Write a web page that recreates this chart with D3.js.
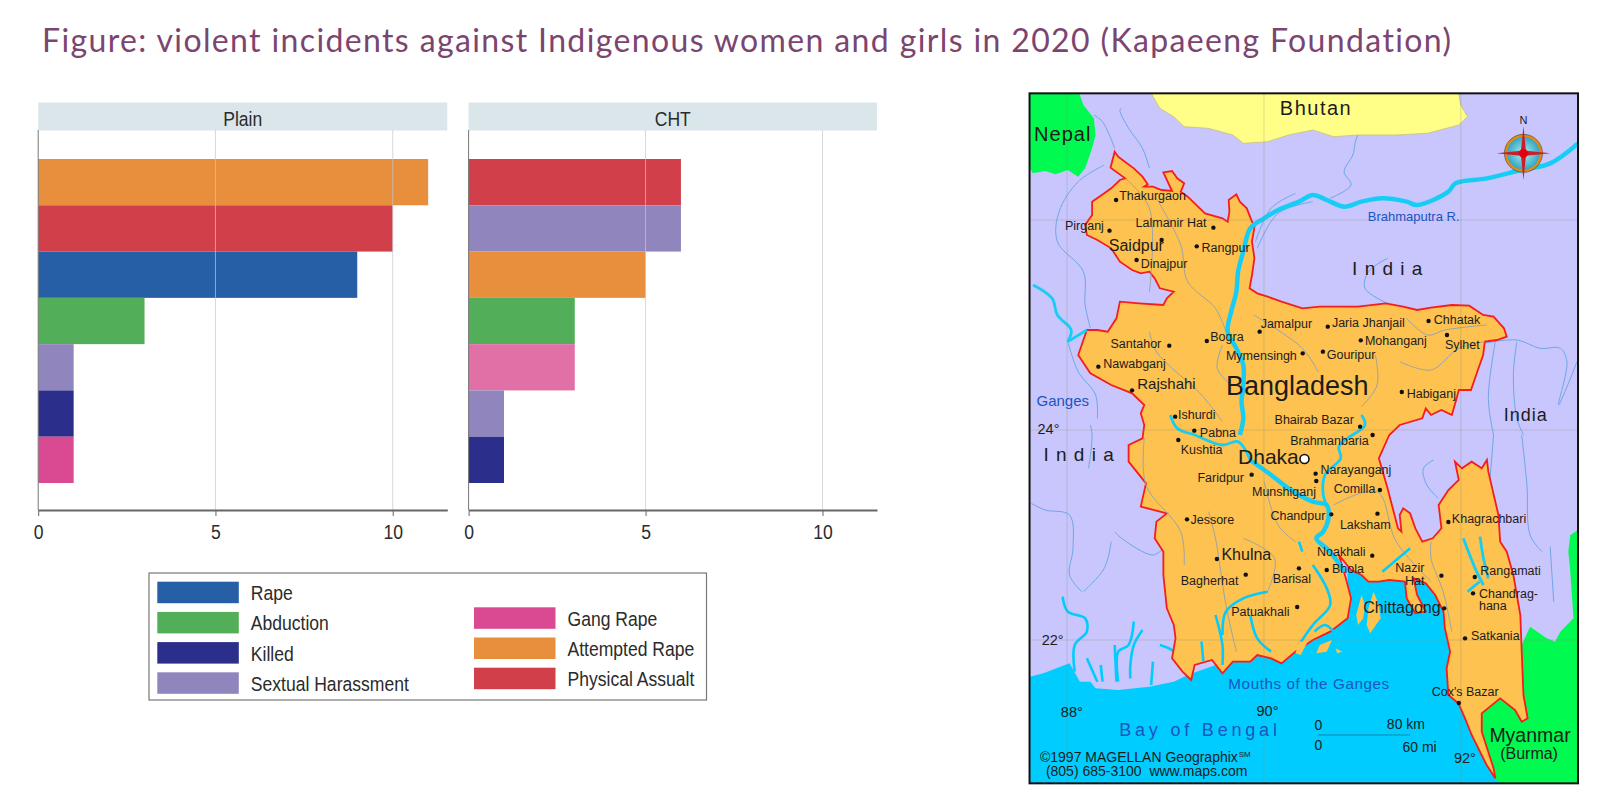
<!DOCTYPE html>
<html lang="en">
<head>
    <meta charset="UTF-8">
    <title>Violent incidents against Indigenous women and girls in 2020</title>
    <script src="https://d3js.org/d3.v7.min.js"></script>
    <style>
        body { margin: 0; background: #fff; }
        svg { display: block; }
        text { font-family: "Liberation Sans", Arial, sans-serif; }
        .title { font-family: Lato, sans-serif; font-size: 32px; fill: #7b4570; font-variant-ligatures: none; }
        .chart-text { font-size: 19.5px; fill: #2b2b2b; }
        .axis path, .axis line { stroke: #666; }
        .axis path { stroke-width: 2px; }
    </style>
</head>
<body>
    <svg width="1608" height="812"></svg>

    <script>
        // Chart data
        const plainCategories = ["Attempted Rape", "Physical Assualt", "Rape", "Abduction", "Sextual Harassment", "Killed", "Gang Rape"];
        const plainValues = [11, 10, 9, 3, 1, 1, 1];
        const chtCategories = ["Physical Assualt", "Sextual Harassment", "Attempted Rape", "Abduction", "Gang Rape", "Sextual Harassment", "Killed"];
        const chtValues = [6, 6, 5, 3, 3, 1, 1];
        const xTicks = [0, 5, 10];
        const legendLeft = ["Rape", "Abduction", "Killed", "Sextual Harassment"];
        const legendRight = ["Gang Rape", "Attempted Rape", "Physical Assualt"];

        const categoryColors = {
            "Rape": "#265fa5", "Abduction": "#53ae59", "Killed": "#2c2e8c",
            "Sextual Harassment": "#9086bd", "Gang Rape": "#da4a93",
            "Attempted Rape": "#e88f3d", "Physical Assualt": "#d1404a"
        };

        const nepal = [[85,25],[228,25],[240,60],[270,100],[275,150],[265,190],[245,250],[225,275],[195,255],[160,268],[130,258],[95,265],[85,250]];
        const bhutan = [[435,25],[1320,25],[1325,60],[1345,95],[1320,120],[1230,145],[1140,150],[1030,150],[960,155],[900,135],[830,150],[770,170],[700,175],[670,150],[600,130],[530,125],[500,95],[460,70]];
        const ocean = [[85,1775],[125,1765],[200,1735],[230,1790],[260,1790],[275,1810],[340,1815],[430,1805],[500,1790],[540,1770],[1000,1600],[1000,1440],[1290,1500],[1440,2095],[85,2095]];
        const myanmar = [[1439,2095],[1423,2080],[1386,1940],[1386,1885],[1439,1840],[1482,1875],[1501,1910],[1518,1900],[1506,1830],[1501,1680],[1525,1625],[1573,1660],[1597,1670],[1612,1640],[1650,1600],[1640,1450],[1635,1400],[1641,1350],[1663,1335],[1663,2095]];
        const bangladesh = [[330,200],[340,215],[365,235],[385,250],[410,275],[425,298],[415,305],[440,305],[465,315],[495,318],[470,262],[495,258],[510,280],[530,295],[520,320],[540,335],[560,355],[590,385],[640,400],[655,410],[660,380],[658,345],[680,328],[690,350],[710,370],[725,410],[733,420],[725,470],[732,520],[725,570],[718,610],[740,625],[770,635],[810,650],[870,670],[920,665],[970,665],[1030,665],[1110,655],[1160,665],[1200,675],[1240,668],[1300,660],[1350,662],[1390,690],[1420,695],[1450,730],[1458,755],[1430,765],[1395,770],[1390,810],[1370,870],[1355,915],[1320,915],[1315,935],[1300,990],[1270,975],[1240,990],[1225,970],[1215,1000],[1150,1020],[1120,1050],[1090,1120],[1115,1210],[1130,1270],[1145,1330],[1155,1340],[1150,1290],[1160,1270],[1180,1285],[1195,1330],[1215,1370],[1245,1360],[1270,1330],[1262,1260],[1290,1215],[1320,1185],[1309,1130],[1329,1150],[1357,1130],[1386,1150],[1401,1125],[1405,1160],[1434,1290],[1439,1370],[1458,1400],[1477,1470],[1497,1590],[1501,1700],[1506,1830],[1518,1900],[1501,1910],[1482,1875],[1439,1840],[1386,1885],[1386,1940],[1420,2050],[1425,2080],[1400,2040],[1357,1950],[1338,1900],[1319,1855],[1290,1830],[1285,1750],[1295,1700],[1280,1630],[1276,1580],[1252,1530],[1225,1495],[1190,1480],[1200,1530],[1225,1580],[1195,1585],[1170,1540],[1165,1490],[1120,1485],[1090,1490],[1060,1490],[1040,1470],[1010,1455],[975,1410],[995,1480],[1010,1540],[1000,1600],[950,1640],[900,1665],[850,1700],[810,1735],[780,1720],[740,1710],[720,1730],[670,1730],[640,1765],[610,1725],[560,1740],[550,1785],[525,1760],[495,1720],[505,1660],[500,1620],[480,1570],[470,1470],[470,1400],[445,1360],[450,1310],[480,1285],[405,1265],[420,1195],[370,1130],[370,1080],[410,1060],[415,1020],[405,985],[415,960],[380,925],[320,900],[260,865],[225,810],[250,735],[280,735],[310,740],[335,700],[345,650],[400,655],[470,660],[480,640],[500,620],[460,610],[445,580],[430,560],[405,565],[380,555],[345,530],[320,490],[280,465],[250,450],[245,420],[265,390],[265,350],[300,325],[320,310],[345,285],[360,280],[318,248]];
        const islands = [
            [[1075,1520],[1090,1560],[1095,1600],[1065,1645],[1055,1620],[1060,1570]],
            [[1040,1530],[1050,1560],[1045,1600],[1030,1620],[1025,1590]],
            [[860,1670],[885,1670],[865,1710],[850,1705]],
            [[920,1680],[955,1665],[940,1700],[910,1705]],
            [[965,1690],[985,1700],[970,1705]]
        ];
        const mainRivers = [
            [[1663,175],[1583,235],[1500,255],[1400,280],[1310,295],[1290,320],[1200,360],[1170,350],[1100,340],[1040,350],[990,365],[940,345],[900,330],[860,350],[800,375],[760,400],[720,430],[700,500],[685,560],[680,620],[665,680],[655,740],[680,790],[700,840],[700,900],[695,950],[700,1000],[690,1050]],
            [[720,1125],[780,1170],[830,1210],[900,1250],[940,1260],[945,1300],[930,1340],[910,1360],[950,1400],[990,1460]]
        ];
        const sideRivers = [
            [[490,990],[510,1030],[560,1050],[640,1080],[685,1070],[720,1125]],
            [[1040,990],[1050,1020],[1000,1060],[975,1085],[980,1120],[935,1170],[930,1230],[940,1260]],
            [[95,600],[150,640],[165,690],[205,735],[195,770]],
            [[195,770],[250,735]],
            [[1333,1360],[1367,1450],[1391,1500]],
            [[1381,1355],[1391,1420],[1405,1480]],
            [[1380,1490],[1345,1520]]
        ];
        const westInlets = [
            [[180,1535],[195,1580],[245,1600],[250,1640],[215,1680],[215,1760]],
            [[385,1610],[370,1680],[340,1700],[340,1790]],
            [[410,1635],[385,1680],[375,1740],[375,1780]],
            [[460,1680],[500,1700],[525,1750]],
            [[250,1720],[280,1790]],
            [[290,1740],[295,1790]],
            [[440,1730],[435,1800]],
            [[330,1680],[335,1790]]
        ];
        const deltaInlets = [
            [[620,1590],[640,1680],[640,1740]],
            [[720,1590],[740,1660],[780,1700]],
            [[770,1520],[700,1540],[650,1580],[640,1650]],
            [[900,1440],[940,1510],[950,1560],[900,1620],[860,1680]],
            [[860,1370],[870,1400]],
            [[1100,1460],[1180,1390]],
            [[580,1670],[585,1730]],
            [[905,1640],[935,1620],[960,1640]]
        ];
        const indiaRivers = [
            [[350,70],[345,75],[370,130],[410,190],[430,250]],
            [[270,90],[295,110],[330,190]],
            [[300,240],[225,290],[170,380],[165,470],[240,560],[245,660],[260,730]],
            [[1150,30],[1100,90],[1030,150],[1015,210],[990,260],[1010,300],[950,340]],
            [[1115,520],[1060,560],[1050,610],[1115,655]],
            [[850,325],[780,370],[735,470]],
            [[900,350],[800,385],[740,490]],
            [[1391,775],[1487,765],[1554,790],[1612,790],[1631,830],[1607,960],[1660,830]],
            [[1425,770],[1405,940],[1420,1050]],
            [[1487,770],[1477,870],[1487,1000],[1506,1050]],
            [[1247,1125],[1218,1150],[1228,1200],[1261,1240]],
            [[1420,1050],[1410,1180]],
            [[1501,1050],[1516,1200],[1525,1350],[1559,1400]],
            [[1583,1385],[1593,1550]],
            [[90,1255],[130,1275],[200,1290],[210,1390],[200,1470],[235,1520]],
            [[330,1340],[350,1360],[440,1410],[470,1390]],
            [[320,1370],[300,1450],[240,1520]],
            [[260,1020],[265,1050],[255,1150]],
            [[195,770],[225,860],[275,930],[280,1000]]
        ];
        const landRivers = [
            [[360,280],[430,370],[430,620]],
            [[450,340],[520,480],[540,590],[620,670],[650,740]],
            [[730,690],[870,790],[915,860]],
            [[1080,810],[1085,900],[1040,965]],
            [[1150,830],[1240,855],[1320,790],[1395,770]],
            [[1170,700],[1230,750],[1280,735],[1400,720]],
            [[415,1060],[420,1200],[520,1340],[530,1440]],
            [[600,1280],[620,1360],[650,1560],[680,1700]],
            [[700,1360],[790,1420],[770,1520]],
            [[760,1190],[800,1320],[850,1370]],
            [[960,1260],[1085,1220],[1140,1370],[1240,1490]],
            [[1240,1370],[1240,1420],[1275,1520],[1300,1640]],
            [[640,780],[625,850],[665,900]],
            [[430,740],[450,800],[580,930],[640,1010]]
        ];
        const lonTicks = [88, 90, 92];
        const latTicks = [26, 24, 22];

        // name, x, y, font size, letter spacing, colour kind
        const mapLabels = [
            ["Bhutan",805,70,20,1.5,""],["Nepal",98,148,20,1,""],["Thakurgaon",343,332,12.5,0,""],["Pirganj",187,422,12.5,0,""],
            ["Lalmanir Hat",390,413,12.5,0,""],["Saidpur",313,482,16,0,""],["Rangpur",580,488,12.5,0,""],["Dinajpur",405,535,12.5,0,""],
            ["Brahmaputra R.",1058,393,13,0,"water"],["I n d i a",1013,551,19,1,""],["Jamalpur",750,715,12.5,0,""],["Jaria Jhanjail",955,712,12.5,0,""],
            ["Chhatak",1248,703,12.5,0,""],["Santahor",318,775,12.5,0,""],["Bogra",605,755,12.5,0,""],["Mohanganj",1050,768,12.5,0,""],
            ["Sylhet",1280,780,12.5,0,""],["Mymensingh",650,813,12.5,0,""],["Gouripur",940,808,12.5,0,""],["Nawabganj",297,837,12.5,0,""],
            ["Rajshahi",395,895,15,0,""],["Bangladesh",650,903,27,0,""],["Habiganj",1170,925,12.5,0,""],["Ganges",105,948,15,0,"water"],
            ["Ishurdi",512,990,12.5,0,""],["India",1449,990,18,1,""],["Bhairab Bazar",790,1005,12.5,0,""],["24°",108,1033,14.5,0,""],
            ["Pabna",575,1042,12.5,0,""],["Brahmanbaria",835,1067,12.5,0,""],["I n d i a",125,1108,19,1,""],["Kushtia",520,1093,12.5,0,""],
            ["Dhaka",685,1115,21,0,""],["Narayanganj",922,1153,12.5,0,""],["Faridpur",568,1177,12.5,0,""],["Munshiganj",725,1220,12.5,0,""],
            ["Comilla",960,1210,12.5,0,""],["Chandpur",778,1293,12.5,0,""],["Jessore",548,1305,12.5,0,""],["Laksham",978,1320,12.5,0,""],
            ["Khagrachbari",1300,1302,12.5,0,""],["Noakhali",912,1400,12.5,0,""],["Khulna",637,1407,16,0,""],["Bhola",955,1452,12.5,0,""],
            ["Nazir",1137,1448,12.5,0,""],["Hat",1165,1487,12.5,0,""],["Rangamati",1382,1456,12.5,0,""],["Bagherhat",520,1486,12.5,0,""],
            ["Barisal",785,1481,12.5,0,""],["Chandrag-",1378,1525,12.5,0,""],["hana",1378,1563,12.5,0,""],["Chittagong",1045,1566,16,0,""],
            ["Patuakhali",665,1581,12.5,0,""],["Satkania",1355,1652,12.5,0,""],["22°",120,1665,14.5,0,""],["Mouths of the Ganges",657,1797,15.2,0.6,"water"],
            ["Cox's Bazar",1242,1820,12.5,0,""],["88°",175,1880,14.5,0,""],["90°",738,1877,14.5,0,""],["0",905,1920,14,0,""],["80 km",1113,1918,14,0,""],
            ["Bay of Bengal",343,1935,18,3.8,"water"],["0",905,1980,14,0,""],["60 mi",1158,1985,14,0,""],["Myanmar",1408,1950,19.5,0,""],["(Burma)",1439,2005,16,0,""],
            ["92°",1306,2020,14.5,0,""],["©1997 MAGELLAN Geographix",115,2015,14,0,""],["(805) 685-3100\u00a0\u00a0www.maps.com",132,2058,14,0,""]
        ];
        const cityDots = [
            [334,345],[315,437],[614,428],[465,465],[566,484],[393,525],[747,740],[943,725],[1233,708],[487,782],[595,768],[1038,766],[1286,750],
            [871,805],[929,800],[283,845],[380,916],[1156,921],[504,995],[1036,1025],[559,1037],[1072,1050],[513,1065],[908,1166],[910,1188],[724,1169],
            [1093,1215],[953,1288],[1086,1286],[538,1303],[1290,1311],[1071,1412],[624,1422],[860,1450],[940,1455],[1270,1472],[1366,1476],[707,1469],
            [1361,1525],[1278,1570],[855,1566],[1338,1660],[1320,1854]
        ];
        const dhaka = [876, 1122];
        const compass = [1506, 205];
        const scaleBar = [[915, 1950], [1180, 1950]];

        const svg = d3.select("svg");

        // gradient for the compass face
        const faceGradient = svg.append("defs").append("radialGradient").attr("id", "compass-face");
        faceGradient.append("stop").attr("offset", "0%").attr("stop-color", "#b5f0ea");
        faceGradient.append("stop").attr("offset", "100%").attr("stop-color", "#2a9fc4");

        svg.append("text")
            .attr("class", "title")
            .attr("x", 42)
            .attr("y", 52)
            .attr("textLength", 1409)
            .text("Figure: violent incidents against Indigenous women and girls in 2020 (Kapaeeng Foundation)");

        // chart labels in the source are a little condensed
        function condensed(x, y) {
            return `translate(${x},${y}) scale(0.9,1)`;
        }

        // Draw one facet of the bar chart
        function drawPanel(name, categories, values, colors, left, right) {
            const x = d3.scaleLinear().domain([0, 11.54]).range([left, right]);
            const y = d3.scaleBand().domain(d3.range(categories.length)).range([159, 483]);
            const g = svg.append("g");

            g.append("rect")
                .attr("x", left).attr("y", 102.5)
                .attr("width", right - left).attr("height", 28)
                .attr("fill", "#dbe6ea");
            g.append("text")
                .attr("class", "chart-text")
                .attr("transform", condensed((left + right) / 2, 125.5))
                .attr("text-anchor", "middle")
                .text(name);

            g.selectAll(".bar")
                .data(values)
                .enter().append("rect")
                .attr("class", "bar")
                .attr("x", x(0))
                .attr("y", (d, i) => y(i))
                .attr("width", d => x(d) - x(0))
                .attr("height", y.bandwidth())
                .attr("fill", (d, i) => colors[i]);

            // grid sits on top of the bars
            g.selectAll(".grid")
                .data(xTicks.slice(1))
                .enter().append("line")
                .attr("x1", d => x(d)).attr("x2", d => x(d))
                .attr("y1", 130).attr("y2", 510)
                .attr("stroke", "#c8c8c8")
                .attr("stroke-opacity", 0.7);

            g.append("line")
                .attr("x1", x(0)).attr("x2", x(0))
                .attr("y1", 130).attr("y2", 510)
                .attr("stroke", "#777");

            const axis = g.append("g")
                .attr("class", "axis")
                .attr("transform", "translate(0,510)")
                .call(d3.axisBottom(x).tickValues(xTicks).tickSize(6).tickSizeOuter(0));

            axis.selectAll(".tick text")
                .attr("font-family", null)
                .attr("class", "chart-text")
                .attr("y", null).attr("dy", null)
                .attr("transform", "translate(0,29) scale(0.9,1)");
        }

        const plainColors = plainCategories.map(c => categoryColors[c]);
        const chtColors = chtCategories.map(c => categoryColors[c]);
        chtColors[4] = "#e070a5";   // this pink is lighter than the legend one

        drawPanel("Plain", plainCategories, plainValues, plainColors, 38.2, 447.3);
        drawPanel("CHT", chtCategories, chtValues, chtColors, 468.6, 877);

        // Legend
        svg.append("rect")
            .attr("x", 149).attr("y", 573)
            .attr("width", 557.5).attr("height", 127)
            .attr("fill", "#fff").attr("stroke", "#777").attr("stroke-width", 1.2);

        function drawLegend(names, swatchX, top) {
            const row = d3.scaleBand().domain(names).range([top, top + names.length * 30.2]);
            const item = svg.append("g").selectAll("g")
                .data(names)
                .enter().append("g");
            item.append("rect")
                .attr("x", swatchX).attr("y", d => row(d))
                .attr("width", 81.5).attr("height", 21.5)
                .attr("fill", d => categoryColors[d]);
            item.append("text")
                .attr("class", "chart-text")
                .attr("transform", d => condensed(swatchX + 93.5, row(d) + 18.5))
                .text(d => d);
        }
        drawLegend(legendLeft, 157.3, 581.7);
        drawLegend(legendRight, 474, 607.3);

        // Map
        const mapX = d3.scaleLinear().domain([0, 1568]).range([1000, 1545]);
        const mapY = d3.scaleLinear().domain([0, 2055]).range([85, 770]);
        const lonX = d3.scaleLinear().domain([88, 92]).range([193, 1326]);
        const latY = d3.scaleLinear().domain([26, 22]).range([405, 1665]);
        const mapLine = d3.line().x(d => mapX(d[0])).y(d => mapY(d[1]));
        const riverLine = d3.line().x(d => mapX(d[0])).y(d => mapY(d[1])).curve(d3.curveCatmullRom);

        const frameX = mapX(85), frameY = mapY(25), frameW = mapX(1663) - mapX(85), frameH = mapY(2095) - mapY(25);
        svg.append("clipPath").attr("id", "map-clip").append("rect")
            .attr("x", frameX).attr("y", frameY).attr("width", frameW).attr("height", frameH);

        const map = svg.append("g").attr("clip-path", "url(#map-clip)");
        map.append("rect")
            .attr("x", frameX).attr("y", frameY).attr("width", frameW).attr("height", frameH)
            .attr("fill", "#c9c6fd");

        function area(points, fill, stroke, width) {
            map.append("path")
                .attr("d", mapLine(points) + "Z")
                .attr("fill", fill)
                .attr("stroke", stroke || "none")
                .attr("stroke-width", width || 0);
        }
        function rivers(list, color, width) {
            map.append("g").selectAll("path")
                .data(list)
                .enter().append("path")
                .attr("d", riverLine)
                .attr("fill", "none")
                .attr("stroke", color)
                .attr("stroke-width", width)
                .attr("stroke-linejoin", "round");
        }

        area(ocean, "#00ccff");
        rivers(indiaRivers, "#6ea6e6", 1);
        area(myanmar, "#00fa50");
        area(nepal, "#00fa50");
        area(bhutan, "#ffff88", "#c9c07a", 0.8);
        rivers(westInlets, "#00ccff", 2.6);
        area(bangladesh, "#fdc250", "#f51d1d", 1.8);
        rivers(landRivers, "#9aa5a8", 1);
        rivers(deltaInlets, "#00ccff", 2.6);
        rivers(mainRivers, "#17cdf6", 4.5);
        rivers(sideRivers, "#17cdf6", 2.8);
        islands.forEach(d => area(d, "#fdc250"));

        // graticule
        map.selectAll(".lon").data(lonTicks).enter().append("line")
            .attr("x1", d => mapX(lonX(d))).attr("x2", d => mapX(lonX(d)))
            .attr("y1", frameY).attr("y2", frameY + frameH)
            .attr("stroke", "#8a8a70").attr("stroke-opacity", 0.3);
        map.selectAll(".lat").data(latTicks).enter().append("line")
            .attr("x1", frameX).attr("x2", frameX + frameW)
            .attr("y1", d => mapY(latY(d))).attr("y2", d => mapY(latY(d)))
            .attr("stroke", "#8a8a70").attr("stroke-opacity", 0.3);

        // scale bar
        map.append("path").attr("d", mapLine(scaleBar)).attr("stroke", "#1587a8").attr("stroke-width", 1);

        // cities
        map.selectAll(".city").data(cityDots).enter().append("circle")
            .attr("cx", d => mapX(d[0])).attr("cy", d => mapY(d[1]))
            .attr("r", 2.2).attr("fill", "#111");
        map.append("circle")
            .attr("cx", mapX(dhaka[0])).attr("cy", mapY(dhaka[1]))
            .attr("r", 4.5).attr("fill", "#fff").attr("stroke", "#111").attr("stroke-width", 1.6);

        // compass
        const cx = mapX(compass[0]), cy = mapY(compass[1]);
        const rose = map.append("g").attr("transform", `translate(${cx},${cy})`);
        rose.append("circle").attr("r", 17.5).attr("fill", "url(#compass-face)").attr("stroke", "#e38a10").attr("stroke-width", 2.5);
        rose.append("circle").attr("r", 19).attr("fill", "none").attr("stroke", "#5a4a20").attr("stroke-width", 0.7);
        rose.append("path").attr("d", "M0,-27 L2.5,-2.5 L27,0 L2.5,2.5 L0,27 L-2.5,2.5 L-27,0 L-2.5,-2.5Z").attr("fill", "#c8202a");
        rose.append("circle").attr("r", 4.5).attr("fill", "#e30010");
        map.append("text")
            .attr("x", cx).attr("y", mapY(105)).attr("dy", "0.35em")
            .attr("text-anchor", "middle").attr("font-size", 11).attr("fill", "#222")
            .text("N");

        map.selectAll(".place").data(mapLabels).enter().append("text")
            .attr("class", "place")
            .attr("x", d => mapX(d[1]))
            .attr("y", d => mapY(d[2]))
            .attr("dy", "0.35em")
            .attr("font-size", d => d[3])
            .attr("letter-spacing", d => d[4])
            .attr("fill", d => d[5] === "water" ? "#1a55c0" : "#1c1c1c")
            .text(d => d[0]);
        map.append("text")
            .attr("x", mapX(687)).attr("y", mapY(2016))
            .attr("font-size", 8).attr("fill", "#1c1c1c")
            .text("SM");

        svg.append("rect")
            .attr("x", frameX).attr("y", frameY).attr("width", frameW).attr("height", frameH)
            .attr("fill", "none").attr("stroke", "#111").attr("stroke-width", 2);
    </script>
</body>
</html>
